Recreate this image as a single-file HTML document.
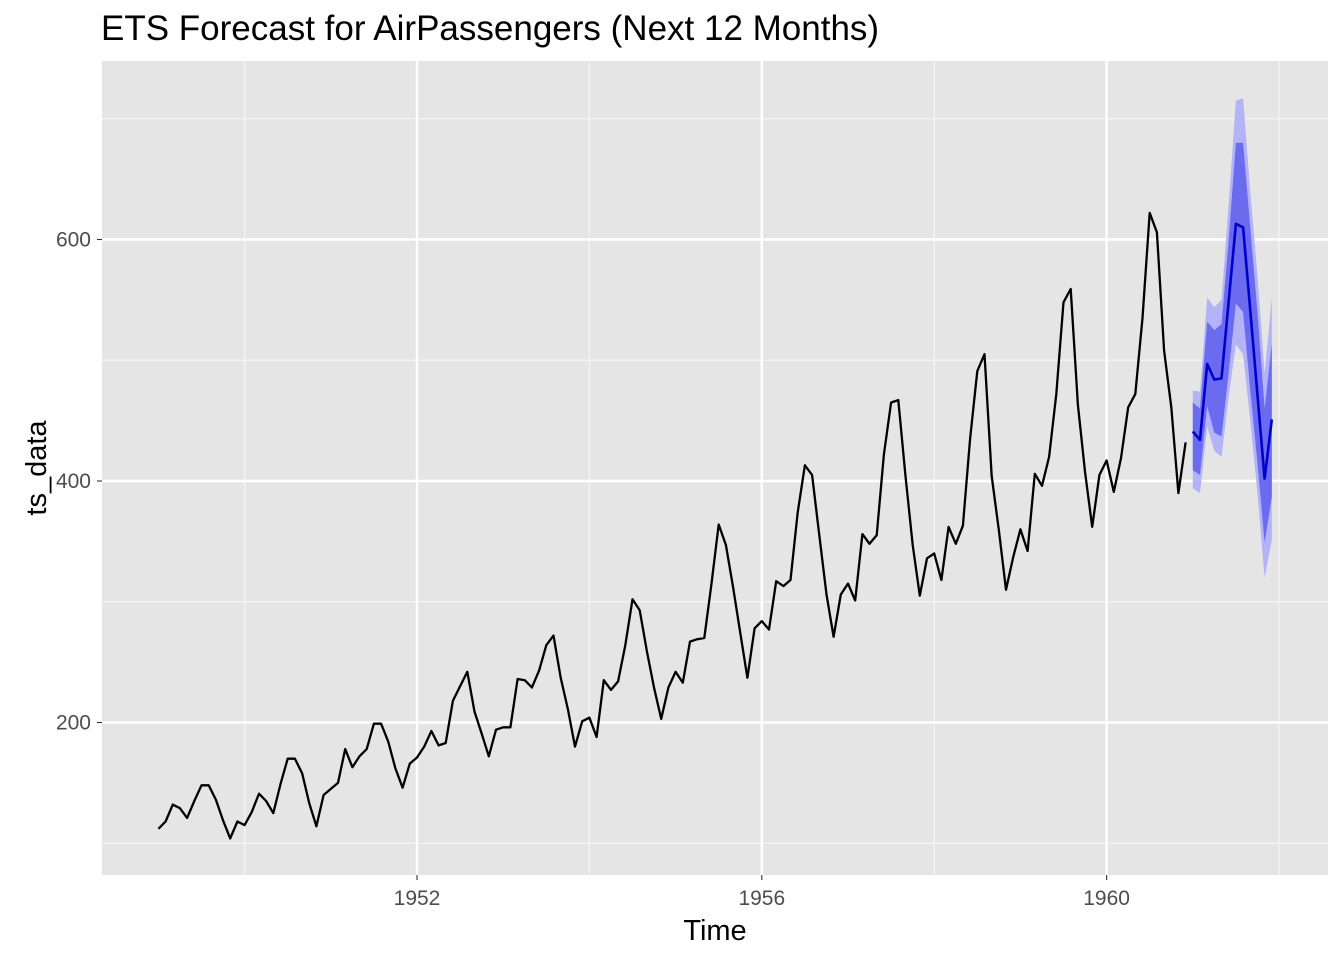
<!DOCTYPE html>
<html><head><meta charset="utf-8"><style>
body{margin:0;background:#fff;font-family:"Liberation Sans",sans-serif}
</style></head><body>
<svg id="c" width="1344" height="960" font-family="Liberation Sans, sans-serif"></svg>
<script>
const actual=[112,118,132,129,121,135,148,148,136,119,104,118,115,126,141,135,125,149,170,170,158,133,114,140,145,150,178,163,172,178,199,199,184,162,146,166,171,180,193,181,183,218,230,242,209,191,172,194,196,196,236,235,229,243,264,272,237,211,180,201,204,188,235,227,234,264,302,293,259,229,203,229,242,233,267,269,270,315,364,347,312,274,237,278,284,277,317,313,318,374,413,405,355,306,271,306,315,301,356,348,355,422,465,467,404,347,305,336,340,318,362,348,363,435,491,505,404,359,310,337,360,342,406,396,420,472,548,559,463,407,362,405,417,391,419,461,472,535,622,606,508,461,390,432];
const fcMean=[441,434,497,484,485,549,613,610,541,471,402,451];
const lo95=[394,390,445,425,420,470,513,505,450,390,320,351];
const lo80=[409,405,462,440,437,490,547,540,475,415,349,387];
const hi80=[465,460,532,525,530,600,680,680,610,540,460,514];
const hi95=[475,474,552,544,550,630,715,717,640,570,489,552];
const xTicks=[1952,1956,1960];
const yTicks=[200,400,600];
const NS="http://www.w3.org/2000/svg";
const svg=document.getElementById('c');
const X=t=>417+(t-1952)*86.2;
const Y=v=>481-(v-400)*1.2075;
function el(tag,a,parent){const e=document.createElementNS(NS,tag);for(const k in a)e.setAttribute(k,a[k]);(parent||svg).appendChild(e);return e;}
const pl=102,pr=1328,pt=61,pb=875;
const bg=el('rect',{x:pl,y:pt,width:pr-pl,height:pb-pt,fill:'#e5e5e5'});


[1950,1954,1958,1962].forEach(m=>{const g=el('line',{x1:X(m),x2:X(m),y1:pt,y2:pb,stroke:'#f5f5f5','stroke-width':1.2});});
[100,300,500,700].forEach(v=>{const g=el('line',{x1:pl,x2:pr,y1:Y(v),y2:Y(v),stroke:'#f5f5f5','stroke-width':1.2});});
xTicks.forEach(t=>{const g=el('line',{x1:X(t),x2:X(t),y1:pt,y2:pb,stroke:'#fff','stroke-width':2.4});
 el('line',{x1:X(t),x2:X(t),y1:pb,y2:pb+5,stroke:'#333','stroke-width':1.1});
 const tx=el('text',{x:X(t),y:pb+30,'text-anchor':'middle','font-size':21,fill:'#4d4d4d'});tx.textContent=t;});
yTicks.forEach(v=>{const g=el('line',{x1:pl,x2:pr,y1:Y(v),y2:Y(v),stroke:'#fff','stroke-width':2.4});
 el('line',{x1:pl-5,x2:pl,y1:Y(v),y2:Y(v),stroke:'#333','stroke-width':1.1});
 const tx=el('text',{x:pl-11,y:Y(v)+7,'text-anchor':'end','font-size':21,fill:'#4d4d4d'});tx.textContent=v;});
const ft=i=>1961+i/12;
function band(lo,hi,fill,name){let d='';for(let i=0;i<lo.length;i++)d+=(i?'L':'M')+X(ft(i))+','+Y(hi[i]);for(let i=lo.length-1;i>=0;i--)d+='L'+X(ft(i))+','+Y(lo[i]);const p=el('path',{d:d+'Z',fill:fill});}
band(lo95,hi95,'#b3b3f7','pi-95-band');
band(lo80,hi80,'#6b6bef','pi-80-band');
let d='';actual.forEach((v,i)=>{d+=(i?'L':'M')+X(1949+i/12).toFixed(1)+','+Y(v).toFixed(1);});
const l=el('path',{d:d,fill:'none',stroke:'#000','stroke-width':2.3,'stroke-linejoin':'round'});
d='';fcMean.forEach((v,i)=>{d+=(i?'L':'M')+X(ft(i)).toFixed(1)+','+Y(v).toFixed(1);});
const f=el('path',{d:d,fill:'none',stroke:'#0000cc','stroke-width':2.6,'stroke-linejoin':'round'});
const t1=el('text',{x:101,y:40,'font-size':35,fill:'#000'});t1.textContent='ETS Forecast for AirPassengers (Next 12 Months)';
const t2=el('text',{x:715,y:940,'text-anchor':'middle','font-size':29,fill:'#000'});t2.textContent='Time';
const t3=el('text',{x:0,y:0,'text-anchor':'middle','font-size':29,fill:'#000',transform:'translate(46,468) rotate(-90)'});t3.textContent='ts_data';
</script>
</body></html>
